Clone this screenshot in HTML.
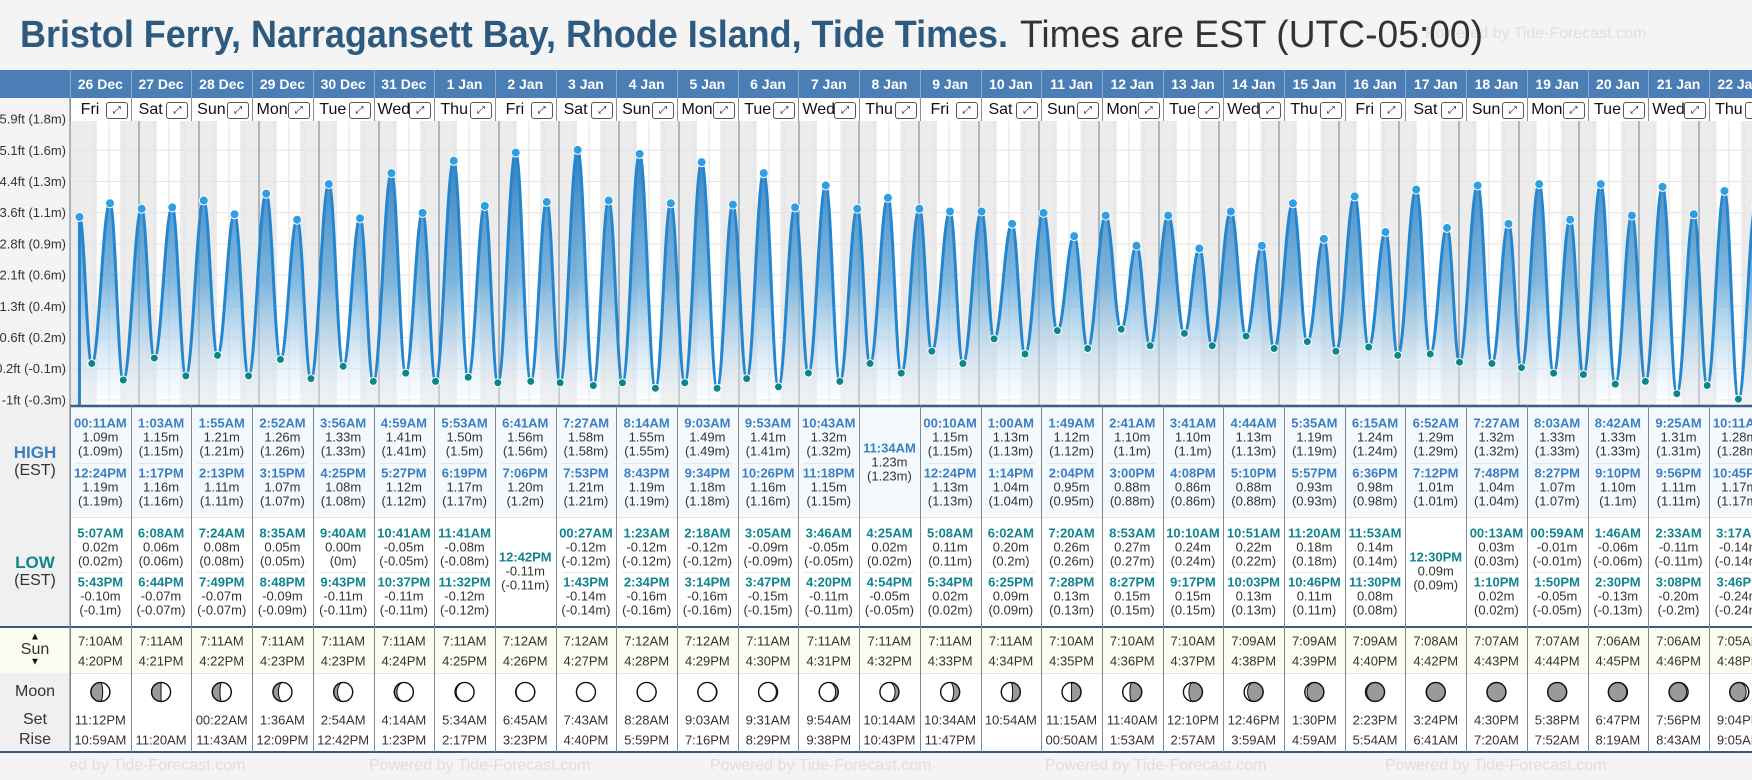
<!DOCTYPE html>
<html><head><meta charset="utf-8">
<style>
body{margin:0;width:1752px;height:780px;overflow:hidden;background:#f4f4f4;font-family:"Liberation Sans",sans-serif;position:relative}
.a{position:absolute;white-space:nowrap}
.c{position:absolute;text-align:center;white-space:nowrap;transform:translateY(-50%)}
#title{left:20px;top:14px;font-size:38px;color:#2e5a80;font-weight:bold;transform-origin:0 0}
#title2{top:14px;font-size:38px;color:#333;transform-origin:0 0}
</style></head>
<body>
<div class="a" style="left:1425px;top:25px;font-size:16px;color:#e0e0e0">Powered by Tide-Forecast.com</div>
<div class="a" id="title">Bristol Ferry, Narragansett Bay, Rhode Island, Tide Times.</div>
<div class="a" id="title2">Times are EST (UTC-05:00)</div>
<div class="a" style="left:0;top:70px;width:1752px;height:28px;background:#4a7eb4"></div>
<div class="a" style="left:70px;top:98px;width:1682px;height:23px;background:#fff;border-bottom:1px solid #667"></div>
<div class="a" style="left:0;top:406px;width:70px;height:346px;background:#f0f0f0"></div>
<div class="a" style="left:70px;top:406px;width:1682px;height:111px;background:#f4f9fe"></div>
<div class="a" style="left:70px;top:517px;width:1682px;height:109px;background:#fff;border-top:1px solid #e4e4e4"></div>
<div class="a" style="left:0;top:626px;width:1752px;height:2px;background:#3c5a7a"></div>
<div class="a" style="left:0;top:628px;width:1752px;height:45px;background:#fcfcf0"></div>
<div class="a" style="left:70px;top:673px;width:1682px;height:78px;background:#fff;border-top:1px solid #e4e4e4"></div>
<div class="a" style="left:0;top:751px;width:1752px;height:1.5px;background:#3c5a7a"></div>
<div class="c" style="left:0;width:70px;top:453px;font-size:17px;font-weight:bold;color:#3b7fc2">HIGH</div>
<div class="c" style="left:0;width:70px;top:471px;font-size:16px;color:#333">(EST)</div>
<div class="c" style="left:0;width:70px;top:563px;font-size:17px;font-weight:bold;color:#12848f">LOW</div>
<div class="c" style="left:0;width:70px;top:581px;font-size:16px;color:#333">(EST)</div>
<div class="c" style="left:0;width:70px;top:637px;font-size:10px;color:#111">▲</div>
<div class="c" style="left:0;width:70px;top:650px;font-size:16px;color:#333">Sun</div>
<div class="c" style="left:0;width:70px;top:662px;font-size:10px;color:#111">▼</div>
<div class="c" style="left:0;width:70px;top:692px;font-size:16px;color:#333">Moon</div>
<div class="c" style="left:0;width:70px;top:720px;font-size:16px;color:#333">Set</div>
<div class="c" style="left:0;width:70px;top:740px;font-size:16px;color:#333">Rise</div>
<svg id="chart" class="a" style="left:0;top:0" width="1752" height="780"></svg>
<div id="cols"></div>
<script>
const dates=["26 Dec","27 Dec","28 Dec","29 Dec","30 Dec","31 Dec","1 Jan","2 Jan","3 Jan","4 Jan","5 Jan","6 Jan","7 Jan","8 Jan","9 Jan","10 Jan","11 Jan","12 Jan","13 Jan","14 Jan","15 Jan","16 Jan","17 Jan","18 Jan","19 Jan","20 Jan","21 Jan","22 Jan"];
const weekdays=["Fri","Sat","Sun","Mon","Tue","Wed","Thu","Fri","Sat","Sun","Mon","Tue","Wed","Thu","Fri","Sat","Sun","Mon","Tue","Wed","Thu","Fri","Sat","Sun","Mon","Tue","Wed","Thu"];
const highTimes=[["00:11AM","12:24PM"],["1:03AM","1:17PM"],["1:55AM","2:13PM"],["2:52AM","3:15PM"],["3:56AM","4:25PM"],["4:59AM","5:27PM"],["5:53AM","6:19PM"],["6:41AM","7:06PM"],["7:27AM","7:53PM"],["8:14AM","8:43PM"],["9:03AM","9:34PM"],["9:53AM","10:26PM"],["10:43AM","11:18PM"],["11:34AM"],["00:10AM","12:24PM"],["1:00AM","1:14PM"],["1:49AM","2:04PM"],["2:41AM","3:00PM"],["3:41AM","4:08PM"],["4:44AM","5:10PM"],["5:35AM","5:57PM"],["6:15AM","6:36PM"],["6:52AM","7:12PM"],["7:27AM","7:48PM"],["8:03AM","8:27PM"],["8:42AM","9:10PM"],["9:25AM","9:56PM"],["10:11AM","10:45PM"]];
const highVals=[[1.09,1.19],[1.15,1.16],[1.21,1.11],[1.26,1.07],[1.33,1.08],[1.41,1.12],[1.50,1.17],[1.56,1.20],[1.58,1.21],[1.55,1.19],[1.49,1.18],[1.41,1.16],[1.32,1.15],[1.23],[1.15,1.13],[1.13,1.04],[1.12,0.95],[1.10,0.88],[1.10,0.86],[1.13,0.88],[1.19,0.93],[1.24,0.98],[1.29,1.01],[1.32,1.04],[1.33,1.07],[1.33,1.10],[1.31,1.11],[1.28,1.17]];
const lowTimes=[["5:07AM","5:43PM"],["6:08AM","6:44PM"],["7:24AM","7:49PM"],["8:35AM","8:48PM"],["9:40AM","9:43PM"],["10:41AM","10:37PM"],["11:41AM","11:32PM"],["12:42PM"],["00:27AM","1:43PM"],["1:23AM","2:34PM"],["2:18AM","3:14PM"],["3:05AM","3:47PM"],["3:46AM","4:20PM"],["4:25AM","4:54PM"],["5:08AM","5:34PM"],["6:02AM","6:25PM"],["7:20AM","7:28PM"],["8:53AM","8:27PM"],["10:10AM","9:17PM"],["10:51AM","10:03PM"],["11:20AM","10:46PM"],["11:53AM","11:30PM"],["12:30PM"],["00:13AM","1:10PM"],["00:59AM","1:50PM"],["1:46AM","2:30PM"],["2:33AM","3:08PM"],["3:17AM","3:46PM"]];
const lowVals=[[0.02,-0.10],[0.06,-0.07],[0.08,-0.07],[0.05,-0.09],[-0.00,-0.11],[-0.05,-0.11],[-0.08,-0.12],[-0.11],[-0.12,-0.14],[-0.12,-0.16],[-0.12,-0.16],[-0.09,-0.15],[-0.05,-0.11],[0.02,-0.05],[0.11,0.02],[0.20,0.09],[0.26,0.13],[0.27,0.15],[0.24,0.15],[0.22,0.13],[0.18,0.11],[0.14,0.08],[0.09],[0.03,0.02],[-0.01,-0.05],[-0.06,-0.13],[-0.11,-0.20],[-0.14,-0.24]];
const sunrise=["7:10AM","7:11AM","7:11AM","7:11AM","7:11AM","7:11AM","7:11AM","7:12AM","7:12AM","7:12AM","7:12AM","7:11AM","7:11AM","7:11AM","7:11AM","7:11AM","7:10AM","7:10AM","7:10AM","7:09AM","7:09AM","7:09AM","7:08AM","7:07AM","7:07AM","7:06AM","7:06AM","7:05AM"];
const sunset=["4:20PM","4:21PM","4:22PM","4:23PM","4:23PM","4:24PM","4:25PM","4:26PM","4:27PM","4:28PM","4:29PM","4:30PM","4:31PM","4:32PM","4:33PM","4:34PM","4:35PM","4:36PM","4:37PM","4:38PM","4:39PM","4:40PM","4:42PM","4:43PM","4:44PM","4:45PM","4:46PM","4:48PM"];
const moonSet=["11:12PM","","00:22AM","1:36AM","2:54AM","4:14AM","5:34AM","6:45AM","7:43AM","8:28AM","9:03AM","9:31AM","9:54AM","10:14AM","10:34AM","10:54AM","11:15AM","11:40AM","12:10PM","12:46PM","1:30PM","2:23PM","3:24PM","4:30PM","5:38PM","6:47PM","7:56PM","9:04PM"];
const moonRise=["10:59AM","11:20AM","11:43AM","12:09PM","12:42PM","1:23PM","2:17PM","3:23PM","4:40PM","5:59PM","7:16PM","8:29PM","9:38PM","10:43PM","11:47PM","","00:50AM","1:53AM","2:57AM","3:59AM","4:59AM","5:54AM","6:41AM","7:20AM","7:52AM","8:19AM","8:43AM","9:05AM"];
const moonPhase=[0.21,0.25,0.28,0.32,0.35,0.38,0.42,0.45,0.48,0.52,0.55,0.58,0.62,0.65,0.69,0.72,0.75,0.79,0.82,0.86,0.89,0.92,0.96,0.99,0.02,0.06,0.09,0.12];
const yTickM=[-0.245,-0.017,0.211,0.438,0.666,0.894,1.121,1.349,1.577,1.805];
const yTickLabels=["-1ft (-0.3m)","-0.2ft (-0.1m)","0.6ft (0.2m)","1.3ft (0.4m)","2.1ft (0.6m)","2.8ft (0.9m)","3.6ft (1.1m)","4.4ft (1.3m)","5.1ft (1.6m)","5.9ft (1.8m)"];

const NS="http://www.w3.org/2000/svg";
const CX0=79,DAYW=60,COLX0=70,COLW=60.7,TOP=121,BOT=406;
function xScale(day,min){return CX0+(day+min/1440)*DAYW;}
function yScale(m){return 366.3-137*m;}
function mins(t){let m=t.match(/(\d+):(\d+)(AM|PM)/);let h=+m[1]%12;if(m[3]=="PM")h+=12;return h*60+ +m[2];}
function S(tag,attrs,parent){const e=document.createElementNS(NS,tag);for(const k in attrs)e.setAttribute(k,attrs[k]);parent.appendChild(e);return e;}
const svg=document.getElementById('chart');
const defs=S('defs',{},svg);
defs.innerHTML='<clipPath id="clip"><rect x="70" y="121" width="1682" height="285"/></clipPath><linearGradient id="gf" gradientUnits="userSpaceOnUse" x1="0" y1="130" x2="0" y2="406"><stop offset="0" stop-color="#1a6fb8" stop-opacity="0.95"/><stop offset="0.55" stop-color="#5aa3d6" stop-opacity="0.75"/><stop offset="1" stop-color="#ffffff" stop-opacity="0.35"/></linearGradient>';
const g=S('g',{'clip-path':'url(#clip)'},svg);
S('rect',{x:70,y:TOP,width:1682,height:BOT-TOP,fill:'#ececec'},g);
for(let i=0;i<dates.length+1;i++){
  const d=Math.min(i,dates.length-1);
  const r=xScale(i,mins(sunrise[d])),s=xScale(i,mins(sunset[d]));
  const band=S('rect',{x:r,y:TOP,width:s-r,height:BOT-TOP,fill:'#fff'},g);
  
  
  for(const hh of [6,12,18]){S('line',{x1:xScale(i,hh*60),x2:xScale(i,hh*60),y1:TOP,y2:BOT,stroke:'#e2e2e2','stroke-width':1},g);}
}
yTickM.forEach((m,k)=>{
  const y=yScale(m);
  S('line',{x1:70,x2:1752,y1:y,y2:y,stroke:'#e4e4e4','stroke-width':1},g);
  const t=S('text',{x:66,y:y+4.5,'text-anchor':'end','font-size':'13','fill':'#333','font-family':'Liberation Sans, sans-serif'},svg);
  t.textContent=yTickLabels[k];
  
  
});
for(let i=1;i<dates.length;i++){
  const x=xScale(i,0);
  const l=S('line',{x1:x,x2:x,y1:TOP,y2:BOT,stroke:'#6e7e8e','stroke-width':1},g);
  
  
}
const ev=[];
dates.forEach((d,i)=>{
  highTimes[i].forEach((t,j)=>ev.push({x:xScale(i,mins(t)),y:yScale(highVals[i][j]),hi:1}));
  lowTimes[i].forEach((t,j)=>ev.push({x:xScale(i,mins(t)),y:yScale(lowVals[i][j]),hi:0}));
});
ev.sort((a,b)=>a.x-b.x);
let p='M'+ev[0].x+','+ev[0].y;
for(let k=1;k<ev.length;k++){const a=ev[k-1],b=ev[k],dx=(b.x-a.x)*0.4;p+=' C'+(a.x+dx)+','+a.y+' '+(b.x-dx)+','+b.y+' '+b.x+','+b.y;}
const area=S('path',{d:p+' L'+ev[ev.length-1].x+','+BOT+' L'+ev[0].x+','+BOT+' Z',fill:'url(#gf)'},g);


const line=S('path',{d:p,fill:'none',stroke:'#2386cf','stroke-width':3},g);


S('line',{x1:ev[0].x,x2:ev[0].x,y1:ev[0].y,y2:BOT,stroke:'#2386cf','stroke-width':3},g);
ev.forEach(e=>{
  const c=S('circle',{cx:e.x,cy:e.y,r:e.hi?4.5:4,fill:e.hi?'#2f9ee2':'#0b8787',stroke:'#fff','stroke-width':1},g);
  
  
});
S('line',{x1:70,x2:1752,y1:BOT,y2:BOT,stroke:'#3a5f85','stroke-width':2.5},svg);
S('line',{x1:70,x2:70,y1:98,y2:752,stroke:'#667788','stroke-width':1},svg);
function moonPath(cx,cy,r,ph){
  const rx=Math.abs(Math.cos(2*Math.PI*ph))*r;
  let s1,s2;
  if(ph<0.5){s1=1;s2=ph<0.25?0:1;}else{s1=0;s2=ph<0.75?0:1;}
  return 'M'+cx+','+(cy-r)+' A'+r+','+r+' 0 0 '+s1+' '+cx+','+(cy+r)+' A'+rx+','+r+' 0 0 '+s2+' '+cx+','+(cy-r)+' Z';
}
const cols=document.getElementById('cols');
function D(cls,style,txt,name,inter){const e=document.createElement('div');e.className=cls;e.style.cssText=style;e.textContent=txt;cols.appendChild(e);return e;}
dates.forEach((d,i)=>{
  const L=COLX0+i*COLW,W=COLW,mid=L+W/2;
  const b1=document.createElement('div');
  b1.className='a';b1.style.cssText=`left:${L}px;top:70px;width:1px;height:28px;background:#86a8cc`;
  
  
  cols.appendChild(b1);
  const b2=document.createElement('div');
  b2.className='a';b2.style.cssText=`left:${L}px;top:98px;width:1px;height:23px;background:#8a8f96`;
  
  
  cols.appendChild(b2);
  const b3=document.createElement('div');
  b3.className='a';b3.style.cssText=`left:${L}px;top:406px;width:1px;height:346px;background:#808890`;
  
  
  cols.appendChild(b3);
  D('c',`left:${L}px;width:${W}px;top:84px;font-size:14px;font-weight:bold;color:#fff`,d,'date-label','false');
  D('c',`left:${L+4}px;width:32px;top:110px;font-size:16px;color:#111`,weekdays[i],'weekday-label','false');
  D('a',`left:${L+W-25}px;top:102px;width:20px;height:15px;border:1px solid #555;border-radius:3px;background:#fff;font-size:10px;line-height:15px;text-align:center;color:#111`,'⤢','expand-day-button','true');
  const hs=highTimes[i].length==1?[448]:[423,473];
  highTimes[i].forEach((t,j)=>{
    const y=hs[j];
    D('c',`left:${L}px;width:${W}px;top:${y}px;font-size:13px;font-weight:bold;color:#3b7fc2`,t,'high-tide-time','false');
    const v=highVals[i][j];
    D('c',`left:${L}px;width:${W}px;top:${y+14}px;font-size:13px;color:#333`,v.toFixed(2)+'m','high-tide-height','false');
    D('c',`left:${L}px;width:${W}px;top:${y+28}px;font-size:13px;color:#333`,'('+(+v.toFixed(2))+'m)','high-tide-height-alt','false');
  });
  if(hs.length==2){const s=document.createElement('div');s.className='a';s.style.cssText=`left:${L+6}px;top:463px;width:${W-12}px;height:1px;background:#e3e6ea`;cols.appendChild(s);}
  const ls=lowTimes[i].length==1?[557]:[533,582];
  lowTimes[i].forEach((t,j)=>{
    const y=ls[j];
    D('c',`left:${L}px;width:${W}px;top:${y}px;font-size:13px;font-weight:bold;color:#12848f`,t,'low-tide-time','false');
    const v=lowVals[i][j];
    D('c',`left:${L}px;width:${W}px;top:${y+14}px;font-size:13px;color:#333`,v.toFixed(2)+'m','low-tide-height','false');
    D('c',`left:${L}px;width:${W}px;top:${y+28}px;font-size:13px;color:#333`,'('+(+v.toFixed(2))+'m)','low-tide-height-alt','false');
  });
  if(ls.length==2){const s=document.createElement('div');s.className='a';s.style.cssText=`left:${L+6}px;top:572px;width:${W-12}px;height:1px;background:#e6e6e6`;cols.appendChild(s);}
  D('c',`left:${L}px;width:${W}px;top:641px;font-size:13px;color:#333`,sunrise[i],'sunrise-time','false');
  D('c',`left:${L}px;width:${W}px;top:661px;font-size:13px;color:#333`,sunset[i],'sunset-time','false');
  D('c',`left:${L}px;width:${W}px;top:720px;font-size:13px;color:#333`,moonSet[i],'moonset-time','false');
  D('c',`left:${L}px;width:${W}px;top:740px;font-size:13px;color:#333`,moonRise[i],'moonrise-time','false');
  const mc=S('circle',{cx:mid,cy:692,r:9.5,fill:'#9a9a9a',stroke:'#111','stroke-width':1.3},svg);
  
  
  S('path',{d:moonPath(mid,692,9.5,moonPhase[i]),fill:'#fff',stroke:'#111','stroke-width':1},svg);
  S('circle',{cx:mid,cy:692,r:9.5,fill:'none',stroke:'#111','stroke-width':1.3},svg);
});
[ 24, 369, 710, 1045, 1385 ].forEach(x=>{
  D('a',`left:${x}px;top:757px;font-size:16px;color:#dedede;clip-path:inset(0 0 0 ${Math.max(0,70-x)}px)`,'Powered by Tide-Forecast.com','footer-watermark','false');
});
const t1=document.getElementById('title'),t2=document.getElementById('title2');
const w1=t1.getBoundingClientRect().width;t1.style.transform=`scaleX(${988/w1})`;
t2.style.left='1020px';const w2=t2.getBoundingClientRect().width;t2.style.transform=`scaleX(${463/w2})`;
</script>
</body></html>
